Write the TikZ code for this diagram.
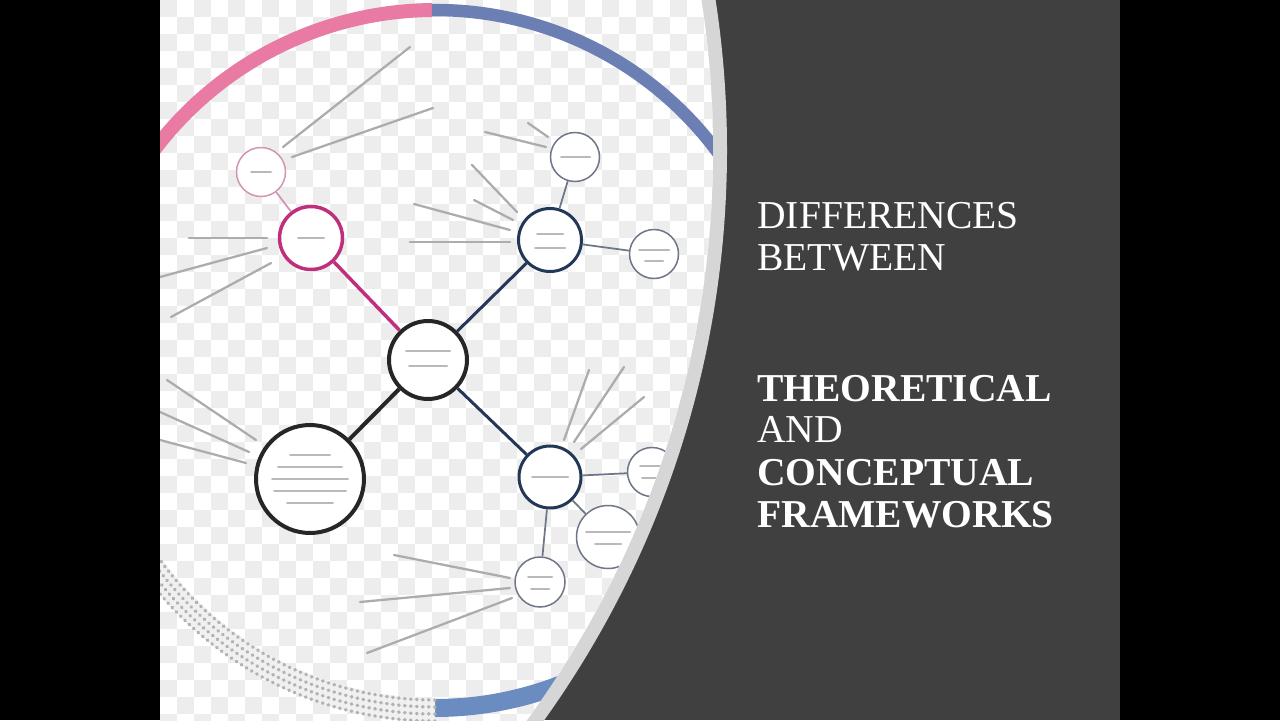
\documentclass[tikz,border=0pt]{standalone}
\usepackage{fontspec}
\setmainfont{Liberation Serif}
\definecolor{panel}{HTML}{404040}
\definecolor{edgeband}{HTML}{D6D6D6}
\definecolor{checker}{HTML}{EDEDED}
\definecolor{ringpink}{HTML}{E87AA3}
\definecolor{ringblue}{HTML}{6C7FB5}
\definecolor{ringblueb}{HTML}{6A8CC0}
\definecolor{magnode}{HTML}{BE307D}
\definecolor{lightpink}{HTML}{D296B4}
\definecolor{navy}{HTML}{233757}
\definecolor{slate}{HTML}{6E7688}
\tikzset{
  mnode/.style={circle, draw, fill=white, inner sep=0pt},
  hubblack/.style={mnode, draw=black!85, line width=0.08cm},
  hubmag/.style={mnode, draw=magnode, line width=0.07cm},
  hubnavy/.style={mnode, draw=navy, line width=0.06cm},
  leafpink/.style={mnode, draw=lightpink, line width=0.03cm},
  leafslate/.style={mnode, draw=slate, line width=0.03cm},
  eblack/.style={draw=black!85, line width=0.08cm},
  emag/.style={draw=magnode, line width=0.07cm},
  enavy/.style={draw=navy, line width=0.06cm},
  ethin/.style={draw=slate, line width=0.035cm},
  ethinpink/.style={draw=lightpink, line width=0.035cm},
  lbl/.style={draw=gray!65, line width=0.045cm, line cap=round},
  smudge/.style={draw=gray!55, line width=0.04cm, line cap=round},
  title/.style={text=white, anchor=base west, inner sep=0pt, font=\fontsize{22.5}{27}\selectfont},
}
\begin{document}
\begin{tikzpicture}[x=0.02cm,y=-0.02cm]
% background and bars
\fill[black] (0,0) rectangle (1280,720);
\fill[panel] (160,0) rectangle (1120,720);
\begin{scope}
  \clip (160,0) rectangle (1120,720);
  \fill[edgeband] (-253,150) circle (980);
  \fill[white] (-253,150) circle (966);
\end{scope}
\begin{scope}
  \clip (160,0) rectangle (1120,720);
  \clip (-253,150) circle (966);
  % checkerboard
  \foreach \i in {0,2,...,32}{
    \foreach \j in {0,2,...,42}{
      \fill[checker] ({160+17*\i},{17*\j}) rectangle +(17,17);
      \fill[checker] ({160+17*(\i+1)},{17*(\j+1)}) rectangle +(17,17);
    }
  }
  % outer ring
  \draw[ringpink, line width=0.28cm] plot[domain=-155:-90.5, samples=80] ({435+352*cos(\x)},{362+352*sin(\x)});
  \draw[ringblue, line width=0.25cm] plot[domain=-90.5:-15, samples=80] ({435+352*cos(\x)},{362+352*sin(\x)});
  \draw[ringblueb, line width=0.36cm] plot[domain=50:90, samples=60] ({435+348*cos(\x)},{360+348*sin(\x)});
  \draw[gray!12, line width=0.48cm] plot[domain=90:165, samples=80] ({435+350*cos(\x)},{360+350*sin(\x)});
  \foreach \rr in {340,347,354,361}{
    \draw[gray!60, line width=0.07cm, line cap=round, dash pattern=on 0.01cm off 0.11cm] plot[domain=90:165, samples=80] ({435+\rr*cos(\x)},{360+\rr*sin(\x)});
  }
  % text-like label strokes
  \draw[lbl] (283,147) -- (410,47);
  \draw[lbl] (292,157) -- (433,108);
  \draw[lbl] (189,238) -- (267,238);
  \draw[lbl] (160,277) -- (267,248);
  \draw[lbl] (171,317) -- (271,263);
  \draw[lbl] (528,123) -- (548,137);
  \draw[lbl] (485,132) -- (546,147);
  \draw[lbl] (472,165) -- (517,212);
  \draw[lbl] (474,200) -- (513,220);
  \draw[lbl] (414,204) -- (510,230);
  \draw[lbl] (410,242) -- (510,242);
  \draw[lbl] (167,380) -- (256,440);
  \draw[lbl] (160,412) -- (249,452);
  \draw[lbl] (160,440) -- (246,463);
  \draw[lbl] (589,370) -- (564,440);
  \draw[lbl] (624,367) -- (574,442);
  \draw[lbl] (644,397) -- (581,449);
  \draw[lbl] (394,555) -- (510,578);
  \draw[lbl] (360,602) -- (510,588);
  \draw[lbl] (367,653) -- (512,598);
  % nodes
  \node[hubblack, minimum size=1.56cm] (th) at (428,360) {};
  \node[hubmag, minimum size=1.26cm] (model) at (311,238) {};
  \node[leafpink, minimum size=0.98cm] (pk) at (261,172) {};
  \node[hubnavy, minimum size=1.26cm] (logic) at (550,240) {};
  \node[leafslate, minimum size=0.98cm] (lt) at (575,157) {};
  \node[leafslate, minimum size=0.98cm] (lr) at (654,254) {};
  \node[hubblack, minimum size=2.16cm] (build) at (310,479) {};
  \node[hubnavy, minimum size=1.24cm] (prin) at (550,477) {};
  \node[leafslate, minimum size=0.98cm] (pr) at (652,472) {};
  \node[leafslate, minimum size=1.26cm] (pc) at (608,537) {};
  \node[leafslate, minimum size=1.0cm] (pb) at (540,582) {};
  % connectors
  \draw[emag] (th) -- (model);
  \draw[enavy] (th) -- (logic);
  \draw[eblack] (th) -- (build);
  \draw[enavy] (th) -- (prin);
  \draw[ethinpink] (model) -- (pk);
  \draw[ethin] (logic) -- (lt);
  \draw[ethin] (logic) -- (lr);
  \draw[ethin] (prin) -- (pr);
  \draw[ethin] (prin) -- (pc);
  \draw[ethin] (prin) -- (pb);
  % illegible in-node text strokes
  \draw[smudge] (406,351) -- (450,351);
  \draw[smudge] (409,366) -- (447,366);
  \draw[smudge] (298,238) -- (324,238);
  \draw[smudge] (251,172) -- (271,172);
  \draw[smudge] (537,234) -- (563,234);
  \draw[smudge] (535,248) -- (565,248);
  \draw[smudge] (561,157) -- (590,157);
  \draw[smudge] (639,250) -- (669,250);
  \draw[smudge] (645,261) -- (663,261);
  \draw[smudge] (290,455) -- (330,455);
  \draw[smudge] (278,467) -- (342,467);
  \draw[smudge] (272,479) -- (348,479);
  \draw[smudge] (274,491) -- (346,491);
  \draw[smudge] (287,503) -- (333,503);
  \draw[smudge] (532,477) -- (568,477);
  \draw[smudge] (640,466) -- (664,466);
  \draw[smudge] (642,478) -- (662,478);
  \draw[smudge] (586,532) -- (630,532);
  \draw[smudge] (595,544) -- (621,544);
  \draw[smudge] (528,577) -- (552,577);
  \draw[smudge] (531,589) -- (549,589);
\end{scope}
% title text
\node[title] (t1) at (757,228) {DIFFERENCES};
\node[title] (t2) at (757,270) {BETWEEN};
\node[title] (t3) at (757,401) {\bfseries THEORETICAL};
\node[title] (t4) at (757,442) {AND};
\node[title] (t5) at (757,485) {\bfseries CONCEPTUAL};
\node[title] (t6) at (757,527) {\bfseries FRAMEWORKS};
\end{tikzpicture}
\end{document}
